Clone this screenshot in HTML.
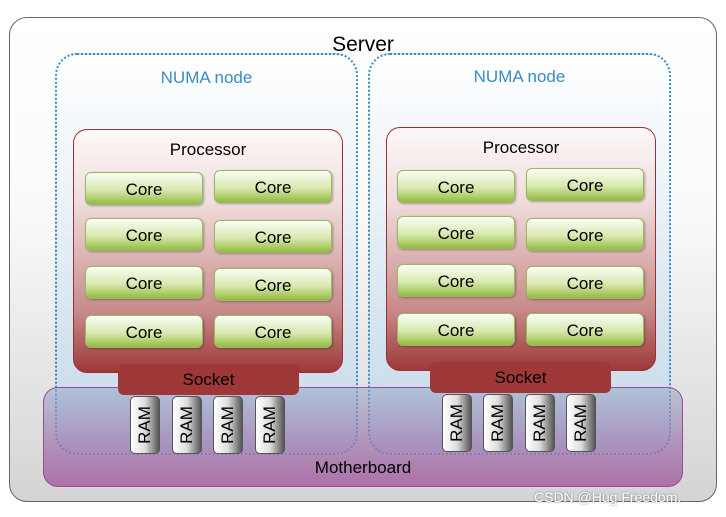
<!DOCTYPE html><html><head><style>
body{margin:0;width:726px;height:517px;background:#fff;position:relative;overflow:hidden;font-family:"Liberation Sans",sans-serif}
div{position:absolute;box-sizing:border-box}
.srv{left:9px;top:17px;width:708px;height:485px;border:1.5px solid #666;border-radius:18px;background:linear-gradient(#fff,#fafafa 40%,#d4d4d4)}
.numa{top:53px;width:303px;height:402px;border:2px dotted #3a8cc8;border-radius:22px;background:linear-gradient(rgba(255,255,255,0.6),rgba(190,215,235,0.8))}
.nl{width:100%;text-align:center;color:#3a8cc4;font-size:17px}
.proc{width:270px;height:244px;border:1px solid #9a3030;border-radius:14px;background:linear-gradient(#fdf8f8,#f0dcdc 30%,#c88a8a 75%,#9e3838 100%)}
.pl{width:100%;text-align:center;font-size:17px;top:10px}
.core{width:118px;height:33px;border:1px solid #9ab860;border-radius:6px;background:linear-gradient(#fafdf4,#d8e8b0 55%,#94bb40);text-align:center;line-height:33px;font-size:17px;box-shadow:1px 1px 2px rgba(0,0,0,.3)}
.sock{width:181px;height:31px;background:#9e3838;border-radius:6px;text-align:center;line-height:31px;font-size:17px}
.mb{left:43px;top:387px;width:640px;height:100px;border:1px solid #9a4a9a;border-radius:15px;background:linear-gradient(rgba(150,170,200,.55),rgba(165,95,160,.85))}
.ram{width:30px;height:58px;border:1px solid #555;border-radius:5px;background:linear-gradient(90deg,#fff,#ddd 50%,#555);}
.ram span{position:absolute;left:50%;top:50%;transform:translate(-50%,-50%) rotate(-90deg);font-size:17px}
</style></head><body>
<div class="srv"></div>
<div style="left:0;width:726px;top:33px;text-align:center;font-size:21px">Server</div>
<div class="numa" style="left:55px"><div class="nl" style="top:13px">NUMA node</div></div>
<div class="numa" style="left:368px"><div class="nl" style="top:12px">NUMA node</div></div>
<div class="mb"></div>
<div style="left:43px;width:640px;top:458px;text-align:center;font-size:17px">Motherboard</div>
<div class="proc" style="left:73px;top:129px"><div class="pl">Processor</div></div>
<div class="proc" style="left:386px;top:127px"><div class="pl">Processor</div></div>
<div class="core" style="left:85px;top:172px">Core</div><div class="core" style="left:214px;top:170px">Core</div>
<div class="core" style="left:85px;top:218px">Core</div><div class="core" style="left:214px;top:220px">Core</div>
<div class="core" style="left:85px;top:266px">Core</div><div class="core" style="left:214px;top:268px">Core</div>
<div class="core" style="left:85px;top:315px">Core</div><div class="core" style="left:214px;top:315px">Core</div>
<div class="core" style="left:397px;top:170px">Core</div><div class="core" style="left:526px;top:168px">Core</div>
<div class="core" style="left:397px;top:216px">Core</div><div class="core" style="left:526px;top:218px">Core</div>
<div class="core" style="left:397px;top:264px">Core</div><div class="core" style="left:526px;top:266px">Core</div>
<div class="core" style="left:397px;top:313px">Core</div><div class="core" style="left:526px;top:313px">Core</div>
<div class="sock" style="left:118px;top:364px">Socket</div>
<div class="sock" style="left:430px;top:362px">Socket</div>
<div class="ram" style="left:130px;top:396px"><span>RAM</span></div>
<div class="ram" style="left:172px;top:396px"><span>RAM</span></div>
<div class="ram" style="left:213px;top:396px"><span>RAM</span></div>
<div class="ram" style="left:255px;top:396px"><span>RAM</span></div>
<div class="ram" style="left:442px;top:394px"><span>RAM</span></div>
<div class="ram" style="left:483px;top:394px"><span>RAM</span></div>
<div class="ram" style="left:525px;top:394px"><span>RAM</span></div>
<div class="ram" style="left:566px;top:394px"><span>RAM</span></div>
<div style="left:534px;top:489px;font-size:14px;color:#fff;text-shadow:0 0 2px #666">CSDN @Hug Freedom.</div>
</body></html>
